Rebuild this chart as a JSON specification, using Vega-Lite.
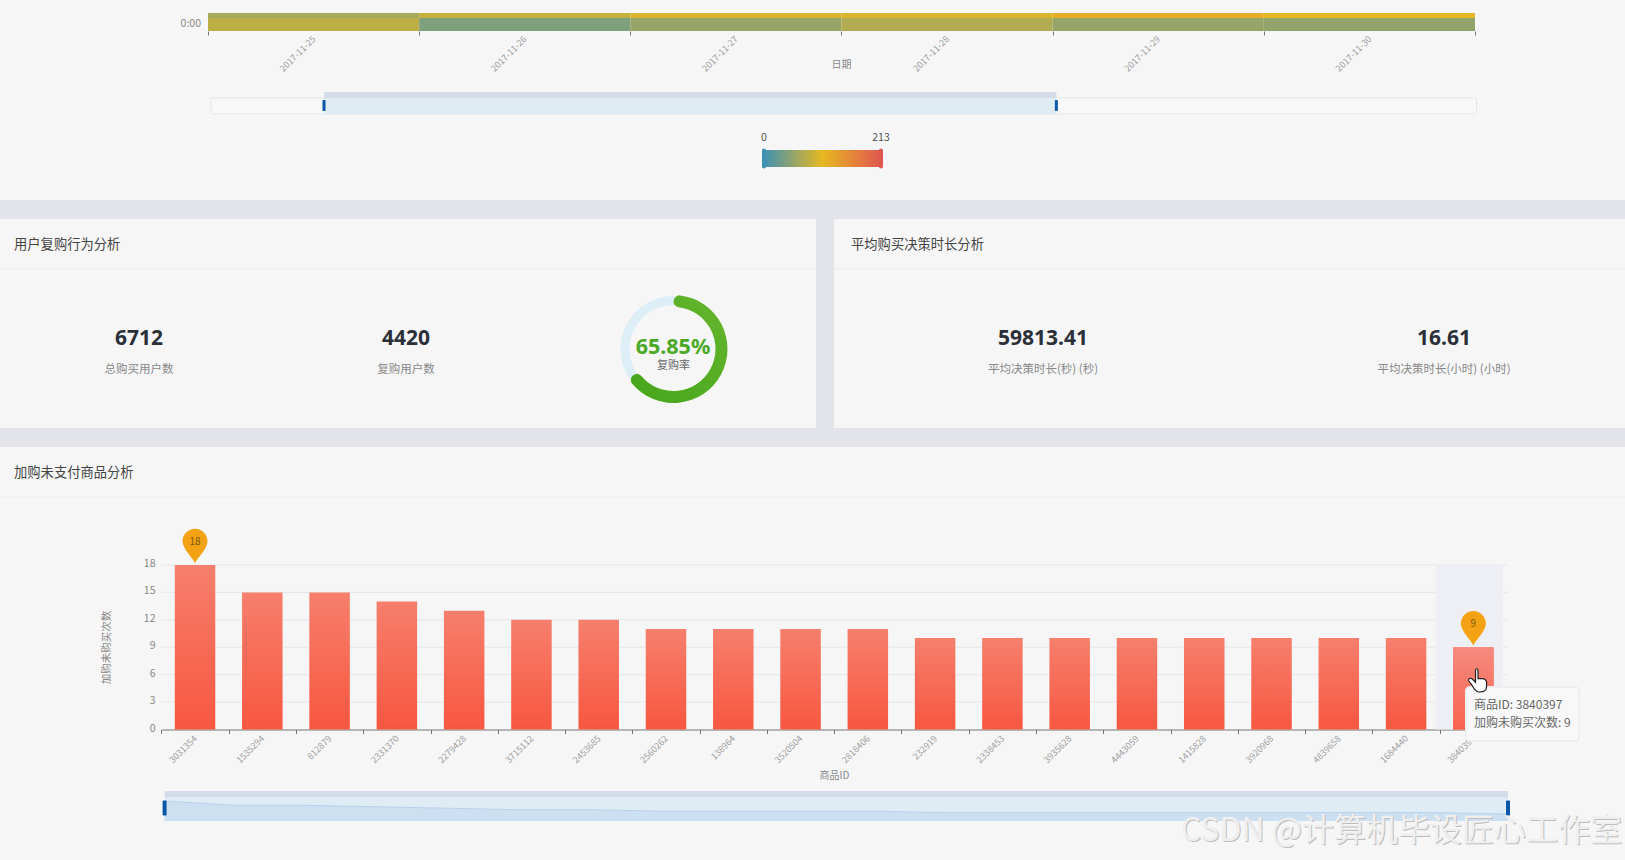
{
  "$schema": "https://vega.github.io/schema/vega-lite/v6.json",
  "background": "#e3e4e9",
  "padding": {"left": -3, "top": 0, "right": 0, "bottom": 0},
  "bounds": "flush",
  "spacing": 19,
  "config": {
    "view": {"fill": "#f6f6f6", "stroke": null},
    "font": "Noto Sans CJK SC",
    "axis": {"labelFont": "Noto Sans CJK SC", "titleFont": "Noto Sans CJK SC"}
  },
  "datasets": {
    "heat": [
      {"date": "2017-11-25", "hour": 0, "hour_end": 1, "count": 80},
      {"date": "2017-11-26", "hour": 0, "hour_end": 1, "count": 40},
      {"date": "2017-11-27", "hour": 0, "hour_end": 1, "count": 55},
      {"date": "2017-11-28", "hour": 0, "hour_end": 1, "count": 72},
      {"date": "2017-11-29", "hour": 0, "hour_end": 1, "count": 55},
      {"date": "2017-11-30", "hour": 0, "hour_end": 1, "count": 52},
      {"date": "2017-11-25", "hour": 1, "hour_end": 2, "count": 65},
      {"date": "2017-11-26", "hour": 1, "hour_end": 2, "count": 85},
      {"date": "2017-11-27", "hour": 1, "hour_end": 2, "count": 97},
      {"date": "2017-11-28", "hour": 1, "hour_end": 2, "count": 97},
      {"date": "2017-11-29", "hour": 1, "hour_end": 2, "count": 118},
      {"date": "2017-11-30", "hour": 1, "hour_end": 2, "count": 105}
    ],
    "bars": [
      {"id": "3031354", "count": 18},
      {"id": "1535294", "count": 15},
      {"id": "812879", "count": 15},
      {"id": "2331370", "count": 14},
      {"id": "2279428", "count": 13},
      {"id": "3715112", "count": 12},
      {"id": "2453685", "count": 12},
      {"id": "2560262", "count": 11},
      {"id": "138964", "count": 11},
      {"id": "3520504", "count": 11},
      {"id": "2818406", "count": 11},
      {"id": "232919", "count": 10},
      {"id": "2338453", "count": 10},
      {"id": "3935628", "count": 10},
      {"id": "4443059", "count": 10},
      {"id": "1415828", "count": 10},
      {"id": "3920968", "count": 10},
      {"id": "4839658", "count": 10},
      {"id": "1684440", "count": 10},
      {"id": "3840397", "count": 9}
    ],
    "grid": [{"v": 3}, {"v": 6}, {"v": 9}, {"v": 12}, {"v": 15}, {"v": 18}],
    "one": [{"n": 1}],
    "zoomTop": [{"start": 8.93, "end": 66.8}],
    "visual": [{"v": 0}, {"v": 213}],
    "titles": [
      {"card": "left", "text": "用户复购行为分析"},
      {"card": "right", "text": "平均购买决策时长分析"}
    ],
    "kpi": [
      {"card": "left", "kpi": "a", "part": "value", "text": "6712"},
      {"card": "left", "kpi": "a", "part": "caption", "text": "总购买用户数"},
      {"card": "left", "kpi": "b", "part": "value", "text": "4420"},
      {"card": "left", "kpi": "b", "part": "caption", "text": "复购用户数"},
      {"card": "right", "kpi": "a", "part": "value", "text": "59813.41"},
      {"card": "right", "kpi": "a", "part": "caption", "text": "平均决策时长(秒) (秒)"},
      {"card": "right", "kpi": "b", "part": "value", "text": "16.61"},
      {"card": "right", "kpi": "b", "part": "caption", "text": "平均决策时长(小时) (小时)"}
    ]
  },
  "vconcat": [
    {
      "width": 1625,
      "height": 200,
      "resolve": {"scale": {"x": "independent", "y": "independent", "color": "independent"}, "axis": {"x": "independent", "y": "independent"}},
      "layer": [
        {
          "data": {"name": "heat"},
          "mark": {"type": "rect"},
          "encoding": {
            "x": {
              "field": "date", "type": "ordinal",
              "scale": {"type": "band", "range": [208, 1475], "paddingInner": 0, "paddingOuter": 0},
              "axis": {"title": "日期", "titleFontSize": 10, "titleColor": "#888", "titleFontWeight": "normal", "titleX": 841, "titleY": 28, "titleAnchor": "middle", "labelAngle": -45, "labelAlign": "right", "labelBaseline": "middle", "labelFontSize": 9, "labelColor": "#a0a0a0", "labelPadding": 2, "tickColor": "#777", "tickSize": 4, "tickBand": "extent", "domain": false, "offset": -169, "orient": "bottom"}
            },
            "y": {"field": "hour", "type": "quantitative", "scale": {"domain": [0, 1.38], "range": [31, 13], "clamp": true}, "axis": null},
            "y2": {"field": "hour_end"},
            "color": {"field": "count", "type": "quantitative", "scale": {"domain": [0, 106.5, 213], "range": ["#3f91b4", "#e7b821", "#e0574f"], "interpolate": "rgb"}, "legend": null}
          }
        },
        {
          "data": {"name": "one"},
          "mark": {"type": "text", "text": "0:00", "fontSize": 10.5, "color": "#888", "align": "right"},
          "encoding": {
            "x": {"datum": 0, "scale": {"domain": [0, 1], "range": [201, 201]}, "axis": null},
            "y": {"datum": 0, "scale": {"domain": [0, 1], "range": [24, 24]}, "axis": null}
          }
        },
        {
          "data": {"name": "zoomTop"},
          "mark": {"type": "rect", "fill": "#f8f8f8", "stroke": "#e4e5e8", "strokeWidth": 1, "cornerRadius": 2},
          "encoding": {
            "x": {"datum": 0, "scale": {"domain": [0, 100], "range": [211, 1476.5]}, "axis": null},
            "x2": {"datum": 100},
            "y": {"datum": 0, "scale": {"domain": [0, 1], "range": [98, 114]}, "axis": null},
            "y2": {"datum": 1}
          }
        },
        {
          "data": {"name": "zoomTop"},
          "mark": {"type": "rect", "fill": "#e0ecf4"},
          "encoding": {
            "x": {"field": "start", "type": "quantitative", "scale": {"domain": [0, 100], "range": [211, 1476.5]}, "axis": null},
            "x2": {"field": "end"},
            "y": {"datum": 0, "scale": {"domain": [0, 1], "range": [98, 114]}, "axis": null},
            "y2": {"datum": 1}
          }
        },
        {
          "data": {"name": "zoomTop"},
          "mark": {"type": "rect", "fill": "#d4dbe9"},
          "encoding": {
            "x": {"field": "start", "type": "quantitative", "scale": {"domain": [0, 100], "range": [211, 1476.5]}, "axis": null},
            "x2": {"field": "end"},
            "y": {"datum": 0, "scale": {"domain": [0, 1], "range": [92, 98]}, "axis": null},
            "y2": {"datum": 1}
          }
        },
        {
          "data": {"name": "zoomTop"},
          "transform": [{"fold": ["start", "end"], "as": ["edge", "pos"]}],
          "mark": {"type": "tick", "orient": "vertical", "color": "#0a57a8", "opacity": 1, "thickness": 3, "size": 11, "cornerRadius": 1},
          "encoding": {
            "x": {"field": "pos", "type": "quantitative", "scale": {"domain": [0, 100], "range": [211, 1476.5]}, "axis": null},
            "y": {"datum": 0, "scale": {"domain": [0, 1], "range": [105.5, 105.5]}, "axis": null}
          }
        },
        {
          "data": {"name": "one"},
          "mark": {"type": "rect", "color": {"gradient": "linear", "x1": 0, "y1": 0, "x2": 1, "y2": 0, "stops": [{"offset": 0, "color": "#3f91b4"}, {"offset": 0.5, "color": "#e7b821"}, {"offset": 1, "color": "#e0574f"}]}},
          "encoding": {
            "x": {"datum": 0, "scale": {"domain": [0, 213], "range": [764, 881]}, "axis": null},
            "x2": {"datum": 213},
            "y": {"datum": 0, "scale": {"domain": [0, 1], "range": [150, 167]}, "axis": null},
            "y2": {"datum": 1}
          }
        },
        {
          "data": {"name": "visual"},
          "mark": {"type": "tick", "orient": "vertical", "opacity": 1, "thickness": 4, "size": 20, "cornerRadius": 2},
          "encoding": {
            "x": {"field": "v", "type": "quantitative", "scale": {"domain": [0, 213], "range": [764, 881]}, "axis": null},
            "y": {"datum": 0, "scale": {"domain": [0, 1], "range": [158.5, 158.5]}, "axis": null},
            "color": {"field": "v", "type": "quantitative", "scale": {"domain": [0, 213], "range": ["#3f91b4", "#e0574f"], "interpolate": "rgb"}, "legend": null}
          }
        },
        {
          "data": {"name": "visual"},
          "mark": {"type": "text", "fontSize": 10.5, "color": "#555"},
          "encoding": {
            "x": {"field": "v", "type": "quantitative", "scale": {"domain": [0, 213], "range": [764, 881]}, "axis": null},
            "y": {"datum": 0, "scale": {"domain": [0, 1], "range": [138, 138]}, "axis": null},
            "text": {"field": "v"}
          }
        }
      ]
    },
    {
      "width": 1625,
      "height": 209,
      "resolve": {"scale": {"x": "independent", "y": "independent", "theta": "independent"}},
      "layer": [
        {
          "data": {"name": "one"},
          "mark": {"type": "rule", "color": "#ececec"},
          "encoding": {"y": {"datum": 0, "scale": {"domain": [0, 1], "range": [50, 50]}, "axis": null}}
        },
        {
          "data": {"name": "one"},
          "mark": {"type": "rect", "color": "#e3e4e9"},
          "encoding": {
            "x": {"datum": 0, "scale": {"domain": [0, 1], "range": [816, 834]}, "axis": null},
            "x2": {"datum": 1}
          }
        },
        {
          "data": {"name": "titles"},
          "mark": {"type": "text", "fontSize": 13.3, "color": "#444", "align": "left"},
          "encoding": {
            "x": {"field": "card", "type": "nominal", "scale": {"type": "point", "domain": ["left", "right"], "range": [14, 851], "padding": 0}, "axis": null},
            "y": {"datum": 0, "scale": {"domain": [0, 1], "range": [26, 26]}, "axis": null},
            "text": {"field": "text"}
          }
        },
        {
          "data": {"name": "kpi"},
          "transform": [{"filter": "datum.part === 'value' && datum.card === 'left'"}],
          "mark": {"type": "text", "font": "Noto Sans", "fontSize": 21, "fontWeight": "bold", "color": "#2b2f38"},
          "encoding": {
            "x": {"field": "kpi", "type": "nominal", "scale": {"type": "point", "domain": ["a", "b"], "range": [139, 406], "padding": 0}, "axis": null},
            "y": {"datum": 0, "scale": {"domain": [0, 1], "range": [120, 120]}, "axis": null},
            "text": {"field": "text"}
          }
        },
        {
          "data": {"name": "kpi"},
          "transform": [{"filter": "datum.part === 'caption' && datum.card === 'left'"}],
          "mark": {"type": "text", "fontSize": 11.5, "color": "#888"},
          "encoding": {
            "x": {"field": "kpi", "type": "nominal", "scale": {"type": "point", "domain": ["a", "b"], "range": [139, 406], "padding": 0}, "axis": null},
            "y": {"datum": 0, "scale": {"domain": [0, 1], "range": [150.5, 150.5]}, "axis": null},
            "text": {"field": "text"}
          }
        },
        {
          "data": {"name": "kpi"},
          "transform": [{"filter": "datum.part === 'value' && datum.card === 'right'"}],
          "mark": {"type": "text", "font": "Noto Sans", "fontSize": 21, "fontWeight": "bold", "color": "#2b2f38"},
          "encoding": {
            "x": {"field": "kpi", "type": "nominal", "scale": {"type": "point", "domain": ["a", "b"], "range": [1043, 1444], "padding": 0}, "axis": null},
            "y": {"datum": 0, "scale": {"domain": [0, 1], "range": [120, 120]}, "axis": null},
            "text": {"field": "text"}
          }
        },
        {
          "data": {"name": "kpi"},
          "transform": [{"filter": "datum.part === 'caption' && datum.card === 'right'"}],
          "mark": {"type": "text", "fontSize": 11.5, "color": "#888"},
          "encoding": {
            "x": {"field": "kpi", "type": "nominal", "scale": {"type": "point", "domain": ["a", "b"], "range": [1043, 1444], "padding": 0}, "axis": null},
            "y": {"datum": 0, "scale": {"domain": [0, 1], "range": [150.5, 150.5]}, "axis": null},
            "text": {"field": "text"}
          }
        },
        {
          "data": {"name": "one"},
          "mark": {"type": "arc", "outerRadius": 53, "innerRadius": 44, "color": "#deeef7"},
          "encoding": {
            "x": {"datum": 0, "scale": {"domain": [0, 1], "range": [673.5, 673.5]}, "axis": null},
            "y": {"datum": 0, "scale": {"domain": [0, 1], "range": [130, 130]}, "axis": null},
            "theta": {"datum": 100, "scale": {"domain": [0, 100], "range": [0, 6.2832]}}
          }
        },
        {
          "data": {"values": [{"rate": 65.85}]},
          "mark": {"type": "arc", "outerRadius": 54, "innerRadius": 42, "cornerRadius": 6, "color": {"gradient": "linear", "x1": 1, "y1": 0, "x2": 0, "y2": 1, "stops": [{"offset": 0, "color": "#66b62f"}, {"offset": 1, "color": "#45a51a"}]}},
          "encoding": {
            "x": {"datum": 0, "scale": {"domain": [0, 1], "range": [673.5, 673.5]}, "axis": null},
            "y": {"datum": 0, "scale": {"domain": [0, 1], "range": [130, 130]}, "axis": null},
            "theta": {"field": "rate", "type": "quantitative", "scale": {"domain": [0, 100], "range": [0, 6.2832]}}
          }
        },
        {
          "data": {"values": [{"rate": "65.85%"}]},
          "mark": {"type": "text", "font": "Noto Sans", "fontSize": 21.5, "fontWeight": "bold", "color": "#4aaa28"},
          "encoding": {
            "x": {"datum": 0, "scale": {"domain": [0, 1], "range": [673, 673]}, "axis": null},
            "y": {"datum": 0, "scale": {"domain": [0, 1], "range": [128.5, 128.5]}, "axis": null},
            "text": {"field": "rate"}
          }
        },
        {
          "data": {"name": "one"},
          "mark": {"type": "text", "text": "复购率", "fontSize": 11, "color": "#666"},
          "encoding": {
            "x": {"datum": 0, "scale": {"domain": [0, 1], "range": [673.5, 673.5]}, "axis": null},
            "y": {"datum": 0, "scale": {"domain": [0, 1], "range": [147, 147]}, "axis": null}
          }
        }
      ]
    },
    {
      "width": 1625,
      "height": 413,
      "resolve": {"scale": {"x": "independent", "y": "independent"}, "axis": {"x": "independent", "y": "independent"}},
      "layer": [
        {
          "data": {"name": "one"},
          "mark": {"type": "rule", "color": "#ececec"},
          "encoding": {"y": {"datum": 0, "scale": {"domain": [0, 1], "range": [50, 50]}, "axis": null}}
        },
        {
          "data": {"name": "one"},
          "mark": {"type": "text", "text": "加购未支付商品分析", "fontSize": 13.3, "color": "#444", "align": "left"},
          "encoding": {
            "x": {"datum": 0, "scale": {"domain": [0, 1], "range": [14, 14]}, "axis": null},
            "y": {"datum": 0, "scale": {"domain": [0, 1], "range": [25.5, 25.5]}, "axis": null}
          }
        },
        {
          "data": {"name": "grid"},
          "mark": {"type": "rule", "color": "#e6e6ea"},
          "encoding": {
            "x": {"datum": 0, "scale": {"domain": [0, 1], "range": [161.4, 1507]}, "axis": null},
            "x2": {"datum": 1},
            "y": {"field": "v", "type": "quantitative", "scale": {"domain": [0, 18], "range": [282.5, 118]}, "axis": null}
          }
        },
        {
          "data": {"name": "bars"},
          "transform": [{"filter": "datum.id === '3840397'"}],
          "mark": {"type": "rect", "color": "#eeeff4"},
          "encoding": {
            "x": {"field": "id", "type": "nominal", "sort": null, "scale": {"domain": ["3840397"], "type": "band", "range": [1435.5, 1502.5]}, "axis": null},
            "y": {"datum": 18, "scale": {"domain": [0, 18], "range": [282.5, 118]}, "axis": null},
            "y2": {"datum": 0}
          }
        },
        {
          "data": {"name": "bars"},
          "mark": {"type": "bar", "width": 40.5, "color": {"gradient": "linear", "x1": 0, "y1": 0, "x2": 0, "y2": 1, "stops": [{"offset": 0, "color": "#f67f6d"}, {"offset": 1, "color": "#f85740"}]}},
          "encoding": {
            "x": {
              "field": "id", "type": "nominal", "sort": null,
              "scale": {"type": "band", "range": [161.4, 1507], "paddingInner": 0, "paddingOuter": 0},
              "axis": {"title": "商品ID", "titleFontSize": 10, "titleFontWeight": "normal", "titleColor": "#888", "titleX": 834, "titleY": 41, "labelAngle": -45, "labelAlign": "right", "labelBaseline": "middle", "labelFontSize": 9, "labelColor": "#a0a0a0", "labelPadding": 3, "domainColor": "#777", "tickColor": "#777", "tickSize": 4, "tickBand": "extent", "offset": -130.5, "orient": "bottom"}
            },
            "y": {
              "field": "count", "type": "quantitative",
              "scale": {"domain": [0, 18], "range": [282.5, 118]},
              "axis": {"title": "加购未购买次数", "titleFontSize": 10.5, "titleFontWeight": "normal", "titleColor": "#888", "titleX": -50, "titleY": 200, "values": [0, 3, 6, 9, 12, 15, 18], "labelFontSize": 10.5, "labelColor": "#888", "labelPadding": 6, "labelOffset": -1.5, "domain": false, "ticks": false, "grid": false, "offset": -161}
            }
          }
        },
        {
          "data": {"name": "bars"},
          "transform": [{"filter": "datum.id === '3840397'"}],
          "mark": {"type": "bar", "width": 40.5, "color": {"gradient": "linear", "x1": 0, "y1": 0, "x2": 0, "y2": 1, "stops": [{"offset": 0, "color": "#f68a7e"}, {"offset": 1, "color": "#f86350"}]}},
          "encoding": {
            "x": {"field": "id", "type": "nominal", "scale": {"type": "band", "domain": ["3840397"], "range": [1439.8, 1507]}, "axis": null},
            "y": {"field": "count", "type": "quantitative", "scale": {"domain": [0, 18], "range": [282.5, 118]}, "axis": null}
          }
        },
        {
          "data": {"name": "bars"},
          "transform": [{"joinaggregate": [{"op": "max", "field": "count", "as": "top"}, {"op": "min", "field": "count", "as": "low"}]}, {"filter": "datum.count === datum.top || datum.count === datum.low"}],
          "mark": {"type": "point", "filled": true, "opacity": 1, "size": 1225, "color": "#f2a213", "shape": "M0,-0.1 C-0.1,-0.4 -0.714,-0.9 -0.714,-1.36 A0.714,0.714 0 1 1 0.714,-1.36 C0.714,-0.9 0.1,-0.4 0,-0.1 Z"},
          "encoding": {
            "x": {"field": "id", "type": "nominal", "scale": {"type": "point", "domain": ["3031354", "1535294", "812879", "2331370", "2279428", "3715112", "2453685", "2560262", "138964", "3520504", "2818406", "232919", "2338453", "3935628", "4443059", "1415828", "3920968", "4839658", "1684440", "3840397"], "range": [195.05, 1473.35], "padding": 0}, "axis": null},
            "y": {"field": "count", "type": "quantitative", "scale": {"domain": [0, 18], "range": [282.5, 118]}, "axis": null}
          }
        },
        {
          "data": {"name": "bars"},
          "transform": [{"joinaggregate": [{"op": "max", "field": "count", "as": "top"}, {"op": "min", "field": "count", "as": "low"}]}, {"filter": "datum.count === datum.top || datum.count === datum.low"}],
          "mark": {"type": "text", "fontSize": 10, "color": "#7f5a12", "dy": -23},
          "encoding": {
            "x": {"field": "id", "type": "nominal", "scale": {"type": "point", "domain": ["3031354", "1535294", "812879", "2331370", "2279428", "3715112", "2453685", "2560262", "138964", "3520504", "2818406", "232919", "2338453", "3935628", "4443059", "1415828", "3920968", "4839658", "1684440", "3840397"], "range": [195.05, 1473.35], "padding": 0}, "axis": null},
            "y": {"field": "count", "type": "quantitative", "scale": {"domain": [0, 18], "range": [282.5, 118]}, "axis": null},
            "text": {"field": "count"}
          }
        },
        {
          "data": {"name": "one"},
          "mark": {"type": "rect", "fill": "#e0ecf4"},
          "encoding": {
            "x": {"datum": 0, "scale": {"domain": [0, 100], "range": [164.6, 1508]}, "axis": null},
            "x2": {"datum": 100},
            "y": {"datum": 0, "scale": {"domain": [0, 1], "range": [350, 374]}, "axis": null},
            "y2": {"datum": 1}
          }
        },
        {
          "data": {"name": "one"},
          "mark": {"type": "rect", "fill": "#d4dbe9"},
          "encoding": {
            "x": {"datum": 0, "scale": {"domain": [0, 100], "range": [164.6, 1508]}, "axis": null},
            "x2": {"datum": 100},
            "y": {"datum": 0, "scale": {"domain": [0, 1], "range": [344, 350]}, "axis": null},
            "y2": {"datum": 1}
          }
        },
        {
          "data": {"name": "bars"},
          "mark": {"type": "area", "color": "#cde0f2", "opacity": 1, "line": {"color": "#b9d2ec", "strokeWidth": 1}},
          "encoding": {
            "x": {"field": "id", "type": "nominal", "sort": null, "scale": {"type": "point", "range": [164.6, 1508], "padding": 0}, "axis": null},
            "y": {"field": "count", "type": "quantitative", "scale": {"domain": [4.2, 18], "range": [374, 354], "zero": false, "clamp": true}, "axis": null}
          }
        },
        {
          "data": {"values": [{"edge": 0}, {"edge": 100}]},
          "mark": {"type": "tick", "orient": "vertical", "color": "#0a57a8", "opacity": 1, "thickness": 4, "size": 15, "cornerRadius": 1},
          "encoding": {
            "x": {"field": "edge", "type": "quantitative", "scale": {"domain": [0, 100], "range": [164.6, 1508]}, "axis": null},
            "y": {"datum": 0, "scale": {"domain": [0, 1], "range": [361, 361]}, "axis": null}
          }
        },
        {
          "data": {"name": "one"},
          "mark": {"type": "rect", "fill": "#f8f8f8", "stroke": "#eeeef0", "strokeWidth": 2, "cornerRadius": 4},
          "encoding": {
            "x": {"datum": 0, "scale": {"domain": [0, 1], "range": [1466, 1579]}, "axis": null},
            "x2": {"datum": 1},
            "y": {"datum": 0, "scale": {"domain": [0, 1], "range": [240, 294]}, "axis": null},
            "y2": {"datum": 1}
          }
        },
        {
          "data": {"values": [{"line": "商品ID: 3840397"}, {"line": "加购未购买次数: 9"}]},
          "mark": {"type": "text", "fontSize": 12, "color": "#666", "align": "left"},
          "encoding": {
            "x": {"datum": 0, "scale": {"domain": [0, 1], "range": [1474, 1474]}, "axis": null},
            "y": {"field": "line", "type": "nominal", "sort": null, "scale": {"type": "point", "range": [257.5, 276], "padding": 0}, "axis": null},
            "text": {"field": "line"}
          }
        },
        {
          "data": {"name": "one"},
          "mark": {"type": "point", "filled": true, "opacity": 1, "fill": "#ffffff", "stroke": "#222222", "strokeWidth": 1.2, "size": 600, "shape": "M-0.2,-0.85 C-0.2,-1.05 0,-1.05 0,-0.85 L0,-0.2 L0.35,-0.2 C0.5,-0.2 0.65,-0.1 0.7,0.1 L0.7,0.45 C0.7,0.75 0.45,0.9 0.15,0.9 C-0.15,0.9 -0.3,0.7 -0.45,0.4 L-0.75,0 C-0.85,-0.2 -0.55,-0.3 -0.4,-0.1 L-0.2,0.1 Z"},
          "encoding": {
            "x": {"datum": 0, "scale": {"domain": [0, 1], "range": [1478, 1478]}, "axis": null},
            "y": {"datum": 0, "scale": {"domain": [0, 1], "range": [234, 234]}, "axis": null}
          }
        },
        {
          "data": {"name": "one"},
          "mark": {"type": "text", "text": "CSDN @计算机毕设匠心工作室", "fontSize": 32, "color": "#bdbdbd", "align": "right"},
          "encoding": {
            "x": {"datum": 0, "scale": {"domain": [0, 1], "range": [1623, 1623]}, "axis": null},
            "y": {"datum": 0, "scale": {"domain": [0, 1], "range": [385, 385]}, "axis": null}
          }
        },
        {
          "data": {"name": "one"},
          "mark": {"type": "text", "text": "CSDN @计算机毕设匠心工作室", "fontSize": 32, "color": "#efefef", "align": "right", "dx": -1, "dy": -1},
          "encoding": {
            "x": {"datum": 0, "scale": {"domain": [0, 1], "range": [1623, 1623]}, "axis": null},
            "y": {"datum": 0, "scale": {"domain": [0, 1], "range": [385, 385]}, "axis": null}
          }
        }
      ]
    }
  ]
}
